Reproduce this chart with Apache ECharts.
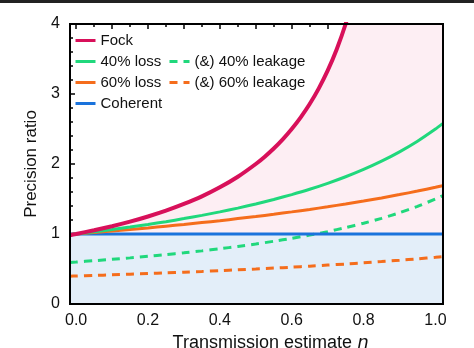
<!DOCTYPE html>
<html>
<head>
<meta charset="utf-8">
<script src="https://cdn.jsdelivr.net/npm/echarts@6/dist/echarts.min.js"></script>
<style>
html,body{margin:0;padding:0;background:#fff;}
#c{width:474px;height:348px;}
</style>
</head>
<body>
<div id="c"></div>
<script>
// ---- data ----
const etaGrid = [-0.017, 0, 0.05, 0.1, 0.15, 0.2, 0.25, 0.3, 0.35, 0.4, 0.45, 0.5, 0.55, 0.6, 0.65, 0.7, 0.75, 0.8, 0.85, 0.9, 0.95, 1.0, 1.02];
const loss40 = [0.990, 1.000, 1.031, 1.064, 1.099, 1.136, 1.176, 1.220, 1.266, 1.316, 1.370, 1.429, 1.493, 1.563, 1.639, 1.724, 1.818, 1.923, 2.041, 2.174, 2.326, 2.500, 2.577];
const loss60 = [0.993, 1.000, 1.020, 1.042, 1.064, 1.087, 1.111, 1.136, 1.163, 1.190, 1.220, 1.250, 1.282, 1.316, 1.351, 1.389, 1.429, 1.471, 1.515, 1.563, 1.613, 1.667, 1.689];
const leak40 = [0.594, 0.600, 0.619, 0.638, 0.659, 0.682, 0.706, 0.732, 0.759, 0.789, 0.822, 0.857, 0.896, 0.938, 0.984, 1.034, 1.091, 1.154, 1.224, 1.304, 1.395, 1.500, 1.546];
const leak60 = [0.397, 0.400, 0.408, 0.417, 0.426, 0.435, 0.444, 0.455, 0.465, 0.476, 0.488, 0.500, 0.513, 0.526, 0.541, 0.556, 0.571, 0.588, 0.606, 0.625, 0.645, 0.667, 0.676];

const fockEta = [-0.017, 0, 0.05, 0.1, 0.15, 0.2, 0.25, 0.3, 0.35, 0.4, 0.45, 0.5, 0.525, 0.55, 0.575, 0.6, 0.625, 0.65, 0.675, 0.7, 0.725, 0.75, 0.775];
const fock = [0.983, 1.000, 1.053, 1.111, 1.176, 1.250, 1.333, 1.429, 1.538, 1.667, 1.818, 2.000, 2.105, 2.222, 2.353, 2.500, 2.667, 2.857, 3.077, 3.333, 3.636, 4.000, 4.444];

const cohEta = [-0.017, 1.021];
const coherent = [1, 1];

const xTickLabels = [0, 0.2, 0.4, 0.6, 0.8, 1.0];
const xMajorTicks = [0, 0.1, 0.2, 0.3, 0.4, 0.5, 0.6, 0.7, 0.8, 0.9, 1.0];
const xMinorTicks = [0.05, 0.15, 0.25, 0.35, 0.45, 0.55, 0.65, 0.75, 0.85, 0.95];

const names = ['Fock', '40% loss', '60% loss', 'Coherent', '(&) 40% leakage', '(&) 60% leakage'];
const colors = {fock: '#d8105a', green: '#20d87c', orange: '#f56d1c', blue: '#1a73dc'};

// ---- build ----
const pairs = (xs, ys) => xs.map((x, i) => [x, ys[i]]);
const yMax = 4;
const pinkTop = pairs(fockEta, fock).filter(p => p[1] <= yMax).concat([[1.021, yMax]]);

const FONT = 'Liberation Sans, Arial, Helvetica, sans-serif';
const mkLine = (show) => ({show: show, onZero: false, lineStyle: {color: '#000', width: 2}});
const gridRect = {left: 70, right: 31, top: 24, bottom: 44, outerBoundsMode: 'none'};

function xAx(pos, gridIndex, major, labels) {
  return {
    type: 'value', min: -0.017, max: 1.021, position: pos, gridIndex: gridIndex,
    axisLine: mkLine(major),
    splitLine: {show: false},
    axisTick: {show: true, inside: true, length: major ? 5 : 3,
      customValues: major ? xMajorTicks : xMinorTicks,
      lineStyle: {color: '#000', width: 1.5}},
    axisLabel: labels ? {show: true, customValues: xTickLabels, formatter: v => v.toFixed(1),
      fontSize: 16, color: '#111', fontFamily: FONT, margin: 9} : {show: false}
  };
}

const xAxes = [xAx('bottom', 0, true, true), xAx('top', 0, true, false), xAx('bottom', 1, false, false), xAx('top', 1, false, false)];
xAxes[0].name = '{a|Transmission estimate }{b|η}';
xAxes[0].nameLocation = 'middle';
xAxes[0].nameGap = 28;
xAxes[0].nameTextStyle = {
  padding: [0, 0, 0, 28],
  rich: {a: {fontSize: 18, color: '#111', fontFamily: FONT}, b: {fontSize: 18, color: '#111', fontFamily: 'DejaVu Sans, sans-serif', fontStyle: 'italic'}}
};

function yAx(pos, labels) {
  return {
    type: 'value', min: 0, max: 4, interval: 1, position: pos, gridIndex: 0,
    axisLine: mkLine(true), splitLine: {show: false},
    axisTick: {show: true, inside: true, length: 5, lineStyle: {color: '#000', width: 1.5}},
    minorTick: {show: true, splitNumber: 5, length: 3, lineStyle: {color: '#000', width: 1.5}},
    minorSplitLine: {show: false},
    axisLabel: labels ? {show: true, fontSize: 16, color: '#111', fontFamily: FONT, margin: 10} : {show: false}
  };
}
const yAxes = [yAx('left', true), yAx('right', false),
  {type: 'value', min: 0, max: 4, gridIndex: 1, show: false}];
yAxes[0].name = 'Precision ratio';
yAxes[0].nameLocation = 'middle';
yAxes[0].nameGap = 23;
yAxes[0].nameTextStyle = {fontSize: 17, color: '#111', fontFamily: FONT};

function lineSeries(name, data, color, width, dashed, z) {
  return {
    name: name, type: 'line', data: data, symbol: 'none', smooth: 0.2, z: z,
    xAxisIndex: 0, yAxisIndex: 0, clip: true,
    lineStyle: {color: color, width: width, type: dashed ? [8, 6] : 'solid'},
    itemStyle: {color: color},
    emphasis: {disabled: true}
  };
}

const series = [
  {name: 'pinkFill', type: 'line', data: pinkTop, symbol: 'none', z: 1, clip: true, xAxisIndex: 0, yAxisIndex: 0,
   lineStyle: {width: 0}, areaStyle: {color: '#fdeef3', origin: 1, opacity: 1}, silent: true},
  {name: 'blueFill', type: 'line', data: pairs(cohEta, coherent), symbol: 'none', z: 1, clip: true, xAxisIndex: 0, yAxisIndex: 0,
   lineStyle: {width: 0}, areaStyle: {color: '#e3eef9', origin: 'start', opacity: 1}, silent: true},
  lineSeries(names[5], pairs(etaGrid, leak60), colors.orange, 3, true, 3),
  lineSeries(names[4], pairs(etaGrid, leak40), colors.green, 3, true, 3),
  lineSeries(names[3], pairs(cohEta, coherent), colors.blue, 3, false, 4),
  lineSeries(names[2], pairs(etaGrid, loss60), colors.orange, 3, false, 5),
  lineSeries(names[1], pairs(etaGrid, loss40), colors.green, 3, false, 5),
  lineSeries(names[0], pairs(fockEta, fock), colors.fock, 4, false, 6)
];

const legendText = {fontSize: 15, color: '#111', fontFamily: FONT};
const legendCommon = () => ({orient: 'vertical', padding: 0, itemWidth: 20, itemHeight: 14, itemGap: 6,
  textStyle: legendText, itemStyle: {opacity: 0}, lineStyle: {width: 3}, selectedMode: false});
const option = {
  animation: false,
  backgroundColor: '#fff',
  grid: [Object.assign({}, gridRect), Object.assign({}, gridRect)],
  xAxis: xAxes,
  yAxis: yAxes,
  legend: [
    Object.assign({data: names.slice(0, 4), left: 74, top: 33}, legendCommon()),
    Object.assign({data: names.slice(4), left: 168, top: 54}, legendCommon())
  ],
  graphic: [
    {id: 'topbar', type: 'rect', left: 0, top: 0, shape: {width: 474, height: 3}, style: {fill: '#222'}, z: 100}
  ],
  series: series
};

const chart = echarts.init(document.getElementById('c'), null, {renderer: 'canvas'});
chart.setOption(option);

// plot frame taken from the library's own grid rectangle
try {
  const r = chart.getModel().getComponent('grid', 0).coordinateSystem.getRect();
  chart.setOption({graphic: [
    {id: 'topbar', type: 'rect', left: 0, top: 0, shape: {width: 474, height: 3}, style: {fill: '#222'}, z: 100},
    {id: 'frame', type: 'rect', shape: {x: r.x, y: r.y, width: r.width, height: r.height},
     style: {fill: 'none', stroke: '#000', lineWidth: 2}, z: 90, silent: true}
  ]});
} catch (e) {
  chart.setOption({grid: [{show: true, borderColor: '#000', borderWidth: 2, backgroundColor: 'transparent'}]});
}
</script>
</body>
</html>
